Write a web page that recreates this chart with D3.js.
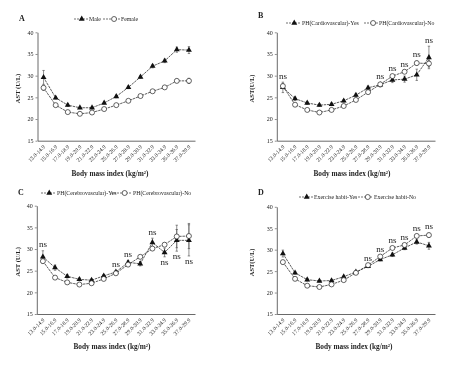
<!DOCTYPE html>
<html>
<head>
<meta charset="utf-8">
<script src="https://cdn.jsdelivr.net/npm/d3@7"></script>
<style>
  body { margin: 0; background: #fff; }
  svg { display: block; filter: grayscale(100%); }
  text { font-family: "Liberation Serif", "Times New Roman", serif; fill: #222; }
</style>
</head>
<body>
<svg id="chart" width="474" height="366"></svg>
<script>
// BMI groups (x categories)
var categories = ["13.0-14.9", "15.0-16.9", "17.0-18.9", "19.0-20.9", "21.0-22.9", "23.0-24.9",
    "25.0-26.9", "27.0-28.9", "29.0-30.9", "31.0-32.9", "33.0-34.9", "35.0-36.9", "37.0-39.9"];
var yTicks = [15, 20, 25, 30, 35, 40];

// A: sex
var maleAST = [29.6, 24.9, 23.2, 22.6, 22.6, 23.7, 25.2, 27.3, 29.7, 32.2, 33.4, 36.0, 35.9];
var maleErr = [1.6, 0.3, 0.3, 0.2, 0.2, 0.2, 0.3, 0.3, 0.3, 0.4, 0.4, 0.6, 0.8];
var femaleAST = [27.2, 23.2, 21.6, 21.2, 21.5, 22.3, 23.2, 24.2, 25.3, 26.4, 27.3, 28.8, 28.8];
var femaleErr = [0.6, 0.3, 0.2, 0.2, 0.2, 0.2, 0.2, 0.2, 0.2, 0.3, 0.3, 0.4, 0.6];

// B: PH (cardiovascular)
var cardioYes = [27.3, 24.7, 23.7, 23.2, 23.4, 24.2, 25.5, 27.2, 27.9, 29.0, 29.2, 30.2, 34.2];
var cardioYesErr = [1.2, 0.4, 0.3, 0.3, 0.3, 0.3, 0.3, 0.4, 0.5, 0.6, 0.7, 1.3, 2.6];
var cardioNo = [27.6, 23.3, 22.1, 21.5, 22.1, 23.0, 24.4, 26.2, 28.0, 29.9, 30.9, 32.9, 32.8];
var cardioNoErr = [0.6, 0.2, 0.2, 0.2, 0.2, 0.2, 0.2, 0.2, 0.3, 0.3, 0.4, 0.5, 0.8];
var cardioNs = [[0, "up"], [8, "up"], [9, "up"], [10, "up"], [11, "up"], [12, "up"]];

// C: PH (cerebrovascular)
var cerebroYes = [28.2, 25.7, 23.7, 23.0, 22.8, 23.8, 24.7, 26.9, 26.6, 31.5, 29.2, 32.0, 32.0];
var cerebroYesErr = [1.4, 0.6, 0.4, 0.3, 0.3, 0.3, 0.3, 0.4, 0.5, 1.0, 1.0, 2.5, 3.6];
var cerebroNo = [27.2, 23.4, 22.3, 21.8, 22.1, 23.1, 24.4, 26.4, 28.2, 30.1, 31.0, 32.9, 33.0];
var cerebroNoErr = [0.5, 0.2, 0.2, 0.2, 0.2, 0.2, 0.2, 0.2, 0.3, 0.3, 0.4, 2.6, 2.9];
var cerebroNs = [[0, "up"], [6, "up"], [7, "up"], [9, "up"], [10, "down"], [11, "down"], [12, "down"]];

// D: exercise habit
var exerciseYes = [29.1, 24.6, 23.0, 22.7, 22.8, 23.7, 24.8, 26.1, 27.7, 28.8, 30.4, 31.8, 30.9];
var exerciseYesErr = [0.8, 0.3, 0.3, 0.2, 0.2, 0.2, 0.2, 0.3, 0.3, 0.4, 0.4, 0.5, 0.8];
var exerciseNo = [27.1, 23.2, 21.6, 21.3, 21.9, 22.9, 24.6, 26.4, 28.4, 30.4, 31.1, 33.2, 33.4];
var exerciseNoErr = [0.4, 0.2, 0.2, 0.2, 0.2, 0.2, 0.2, 0.2, 0.3, 0.3, 0.3, 0.4, 0.5];
var exerciseNs = [[7, "up"], [8, "up"], [9, "up"], [10, "up"], [11, "up"], [12, "up"]];

var svg = d3.select("#chart");

var panels = [
    { tag: "A", left: 37.5, right: 195, top: 32.3, bottom: 140.7, tagX: 19, tagY: 21,
      yLabel: "AST (U/L)", yLabelX: 20, titleX: 110, titleY: 176,
      series: [
          { name: "Male", values: maleAST, err: maleErr, mark: "tri", lx: 74, tx: 89 },
          { name: "Female", values: femaleAST, err: femaleErr, mark: "circ", lx: 103, tx: 121 }],
      legendY: 19, ns: [] },
    { tag: "B", left: 276.8, right: 435, top: 32.3, bottom: 140.7, tagX: 258, tagY: 18,
      yLabel: "AST(U/L)", yLabelX: 254, titleX: 352, titleY: 176,
      series: [
          { name: "PH(Cardiovascular)-Yes", values: cardioYes, err: cardioYesErr, mark: "tri", lx: 286, tx: 302 },
          { name: "PH(Cardiovascular)-No", values: cardioNo, err: cardioNoErr, mark: "circ", lx: 364, tx: 379 }],
      legendY: 23, ns: cardioNs },
    { tag: "C", left: 36.8, right: 195, top: 205.7, bottom: 314, tagX: 18, tagY: 195,
      yLabel: "AST (U/L)", yLabelX: 20, titleX: 112, titleY: 349,
      series: [
          { name: "PH(Cerebrovascular)-Yes", values: cerebroYes, err: cerebroYesErr, mark: "tri", lx: 41, tx: 57 },
          { name: "PH(Cerebrovascular)-No", values: cerebroNo, err: cerebroNoErr, mark: "circ", lx: 111, tx: 133 }],
      legendY: 193, ns: cerebroNs },
    { tag: "D", left: 276.8, right: 435, top: 206.8, bottom: 314, tagX: 258, tagY: 195,
      yLabel: "AST(U/L)", yLabelX: 254, titleX: 354, titleY: 349,
      series: [
          { name: "Exercise habit-Yes", values: exerciseYes, err: exerciseYesErr, mark: "tri", lx: 299, tx: 314 },
          { name: "Exercise habit-No", values: exerciseNo, err: exerciseNoErr, mark: "circ", lx: 358, tx: 374 }],
      legendY: 197, ns: exerciseNs }
];

var triPath = d3.symbol().type(d3.symbolTriangle).size(15);

function marker(sel, kind) {
    if (kind === "tri") {
        sel.append("path").attr("d", triPath).attr("fill", "#111");
    } else {
        sel.append("circle").attr("r", 2.5).attr("fill", "#fff")
            .attr("stroke", "#222").attr("stroke-width", 0.7);
    }
}

panels.forEach(function (p) {
    var g = svg.append("g");
    var x = d3.scalePoint().domain(categories).range([p.left, p.right]).padding(0.5);
    var y = d3.scaleLinear().domain([15, 40]).range([p.bottom, p.top]);

    // axes
    var ya = g.append("g").attr("transform", "translate(" + p.left + ",0)")
        .call(d3.axisLeft(y).tickValues(yTicks).tickSize(2).tickSizeOuter(0).tickPadding(2));
    ya.selectAll("text").style("font-size", "6px").style("font-family", "Liberation Serif").attr("fill", "#333");

    var xa = g.append("g").attr("transform", "translate(0," + p.bottom + ")")
        .call(d3.axisBottom(x).tickSize(0).tickSizeOuter(0).tickPadding(0));
    xa.selectAll("text")
        .attr("text-anchor", "end")
        .attr("dy", null).attr("y", 0)
        .attr("transform", "translate(1.5,6.5) rotate(-45)")
        .style("font-size", "5.6px")
        .style("font-family", "Liberation Serif").attr("fill", "#444");
    g.selectAll(".domain").attr("stroke", "#444").attr("stroke-width", 0.8);
    g.selectAll(".tick line").attr("stroke", "#444").attr("stroke-width", 0.6);

    // titles
    g.append("text").attr("x", p.tagX).attr("y", p.tagY).text(p.tag)
        .style("font-size", "8px").style("font-weight", "bold");
    g.append("text").attr("x", p.titleX).attr("y", p.titleY).attr("text-anchor", "middle")
        .style("font-size", "7.3px").style("font-weight", "bold")
        .html("Body mass index (kg/m<tspan dy='-2.5' style='font-size:4.5px'>2</tspan><tspan dy='2.5'>)</tspan>");
    g.append("text")
        .attr("transform", "translate(" + p.yLabelX + "," + ((p.top + p.bottom) / 2 + 2) + ") rotate(-90)")
        .attr("text-anchor", "middle")
        .style("font-size", "6.5px").style("font-weight", "bold")
        .text(p.yLabel);

    // series
    p.series.forEach(function (s) {
        var pts = s.values.map(function (v, i) { return { c: categories[i], v: v, e: s.err[i] }; });
        g.append("path").datum(pts)
            .attr("fill", "none").attr("stroke", "#333").attr("stroke-width", 0.8)
            .attr("stroke-dasharray", "2.5,0.8")
            .attr("d", d3.line().x(function (d) { return x(d.c); }).y(function (d) { return y(d.v); }));
        var eb = g.append("g").selectAll("g").data(pts).join("g");
        eb.append("line")
            .attr("x1", function (d) { return x(d.c); }).attr("x2", function (d) { return x(d.c); })
            .attr("y1", function (d) { return y(d.v - d.e); }).attr("y2", function (d) { return y(d.v + d.e); })
            .attr("stroke", "#444").attr("stroke-width", 0.6);
        [1, -1].forEach(function (sgn) {
            eb.append("line")
                .attr("x1", function (d) { return x(d.c) - 1.2; }).attr("x2", function (d) { return x(d.c) + 1.2; })
                .attr("y1", function (d) { return y(d.v + sgn * d.e); }).attr("y2", function (d) { return y(d.v + sgn * d.e); })
                .attr("stroke", "#444").attr("stroke-width", 0.6);
        });
    });
    p.series.forEach(function (s) {
        s.values.forEach(function (v, i) {
            var m = g.append("g").attr("transform", "translate(" + x(categories[i]) + "," + y(v) + ")");
            marker(m, s.mark);
        });
    });

    // ns annotations
    p.ns.forEach(function (n) {
        var i = n[0];
        var ups = p.series.map(function (s) { return y(s.values[i] + s.err[i]); });
        var downs = p.series.map(function (s) { return y(s.values[i] - s.err[i]); });
        var ty = n[1] === "up" ? d3.min(ups) - 3.5 : d3.max(downs) + 8;
        g.append("text").attr("x", x(categories[i])).attr("y", ty)
            .attr("text-anchor", "middle").style("font-size", "9px").text("ns");
    });

    // legend
    p.series.forEach(function (s, k) {
        var lg = g.append("g");
        var len = s.tx - s.lx - 1;
        lg.append("line").attr("x1", s.lx).attr("x2", s.lx + len)
            .attr("y1", p.legendY).attr("y2", p.legendY)
            .attr("stroke", "#333").attr("stroke-width", 0.7).attr("stroke-dasharray", "2,1");
        marker(lg.append("g").attr("transform", "translate(" + (s.lx + len * (k === 0 ? 0.55 : 0.65)) + "," + p.legendY + ")"), s.mark);
        lg.append("text").attr("x", s.tx).attr("y", p.legendY + 2)
            .style("font-size", "5.8px").text(s.name);
    });
});
</script>
</body>
</html>
